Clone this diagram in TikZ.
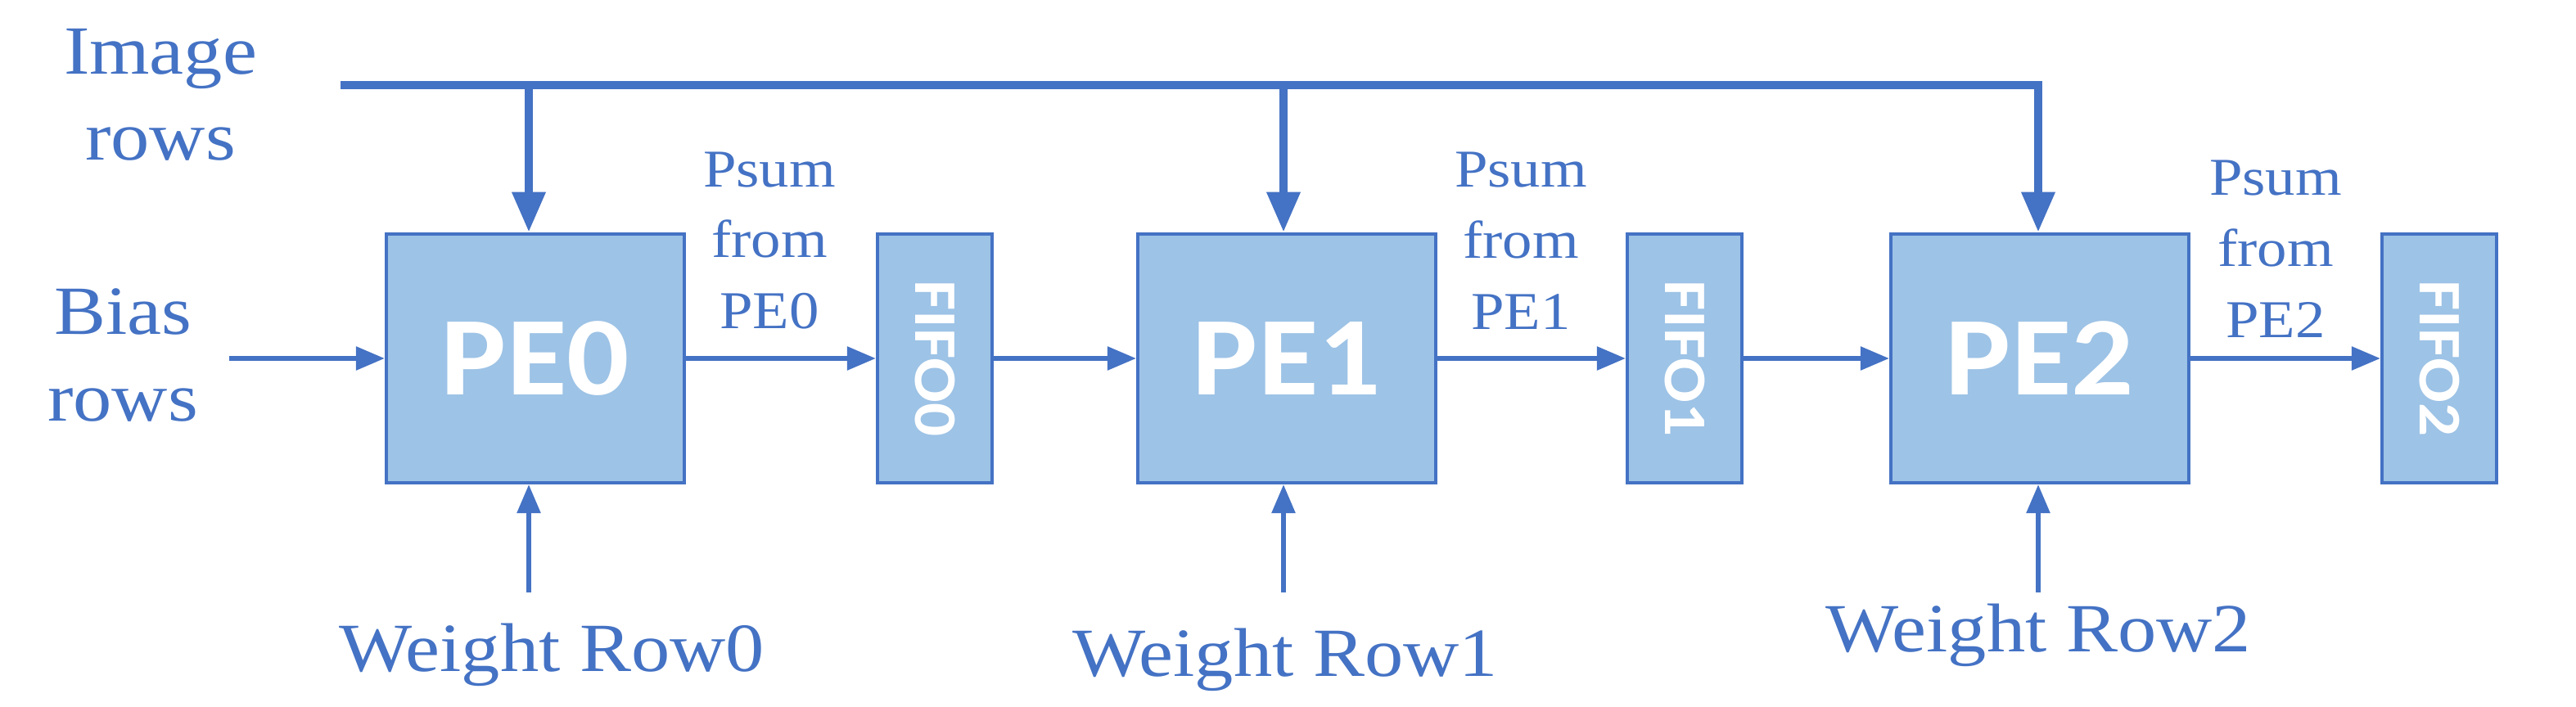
\documentclass[tikz,border=0pt]{standalone}
\usepackage{fontspec}
\setmainfont{Liberation Serif}[FakeStretch=1.12]
\newfontfamily\pefont{Carlito}[FakeStretch=1.1]
\usetikzlibrary{arrows.meta}
\definecolor{bl}{HTML}{4472C4}
\definecolor{fillb}{HTML}{9DC3E6}
\begin{document}
\begin{tikzpicture}[x=0.02cm,y=-0.02cm,
 pe/.style={draw=bl,fill=fillb,line width=1.2pt,minimum width=3.64cm,minimum height=3.04cm,inner sep=0pt,text=white,font=\pefont\bfseries\fontsize{39}{39}\selectfont},
 fifo/.style={draw=bl,fill=fillb,line width=1.2pt,minimum width=1.4cm,minimum height=3.04cm,inner sep=0pt},
 ft/.style={text=white,font=\pefont\bfseries\fontsize{21}{21}\selectfont,rotate=-90},
 lbl/.style={text=bl,align=center,font=\fontsize{24}{30}\selectfont},
 ps/.style={text=bl,align=center,font=\fontsize{18.5}{24.7}\selectfont},
 ar/.style={draw=bl,line width=1.6pt,-{Triangle[length=10pt,width=8pt]}},
 bar/.style={draw=bl,line width=3pt,-{Triangle[length=14pt,width=11pt]}}]
\useasboundingbox (0,0) rectangle (1573.5,432);
\node[pe] (pe0) at (327,219) {PE0};
\node[pe] (pe1) at (786,219) {PE1};
\node[pe] (pe2) at (1246,219) {PE2};
\node[fifo] (f0) at (571,219) {}; \node[ft] at (f0) {FIFO0};
\node[fifo] (f1) at (1029,219) {}; \node[ft] at (f1) {FIFO1};
\node[fifo] (f2) at (1490,219) {}; \node[ft] at (f2) {FIFO2};
\node[lbl] (img) at (98,58) {Image\\rows};
\node[lbl] (bias) at (75,217) {Bias\\rows};
\coordinate (bs) at (140,219);
\coordinate (b0) at (208,52);
\coordinate (b1) at (323,52);
\coordinate (b2) at (784,52);
\coordinate (b3) at (1245,52);
\draw[draw=bl,line width=3pt] (b0) -- (b3);
\draw[bar] (b1) -- (pe0.north -| b1);
\draw[bar] (b2) -- (pe1.north -| b2);
\draw[bar] ([xshift=-1.5pt]b3) -- ++(0,0) |- (b3) -- (pe2.north -| b3);
\draw[ar] (bs) -- (pe0.west);
\draw[ar] (pe0.east) -- (f0.west);
\draw[ar] (f0.east) -- (pe1.west);
\draw[ar] (pe1.east) -- (f1.west);
\draw[ar] (f1.east) -- (pe2.west);
\draw[ar] (pe2.east) -- (f2.west);
\node[ps] (p0) at (470,147) {Psum\\from\\PE0};
\node[ps] (p1) at (929,147) {Psum\\from\\PE1};
\node[ps] (p2) at (1390,152) {Psum\\from\\PE2};
\node[lbl] (w0) at (337,400) {Weight Row0};
\node[lbl] (w1) at (785,403) {Weight Row1};
\node[lbl] (w2) at (1245,388) {Weight Row2};
\coordinate (c0) at (323,362);
\coordinate (c1) at (784,362);
\coordinate (c2) at (1245,362);
\draw[ar] (c0) -- (pe0.south -| c0);
\draw[ar] (c1) -- (pe1.south -| c1);
\draw[ar] (c2) -- (pe2.south -| c2);
\end{tikzpicture}
\end{document}
